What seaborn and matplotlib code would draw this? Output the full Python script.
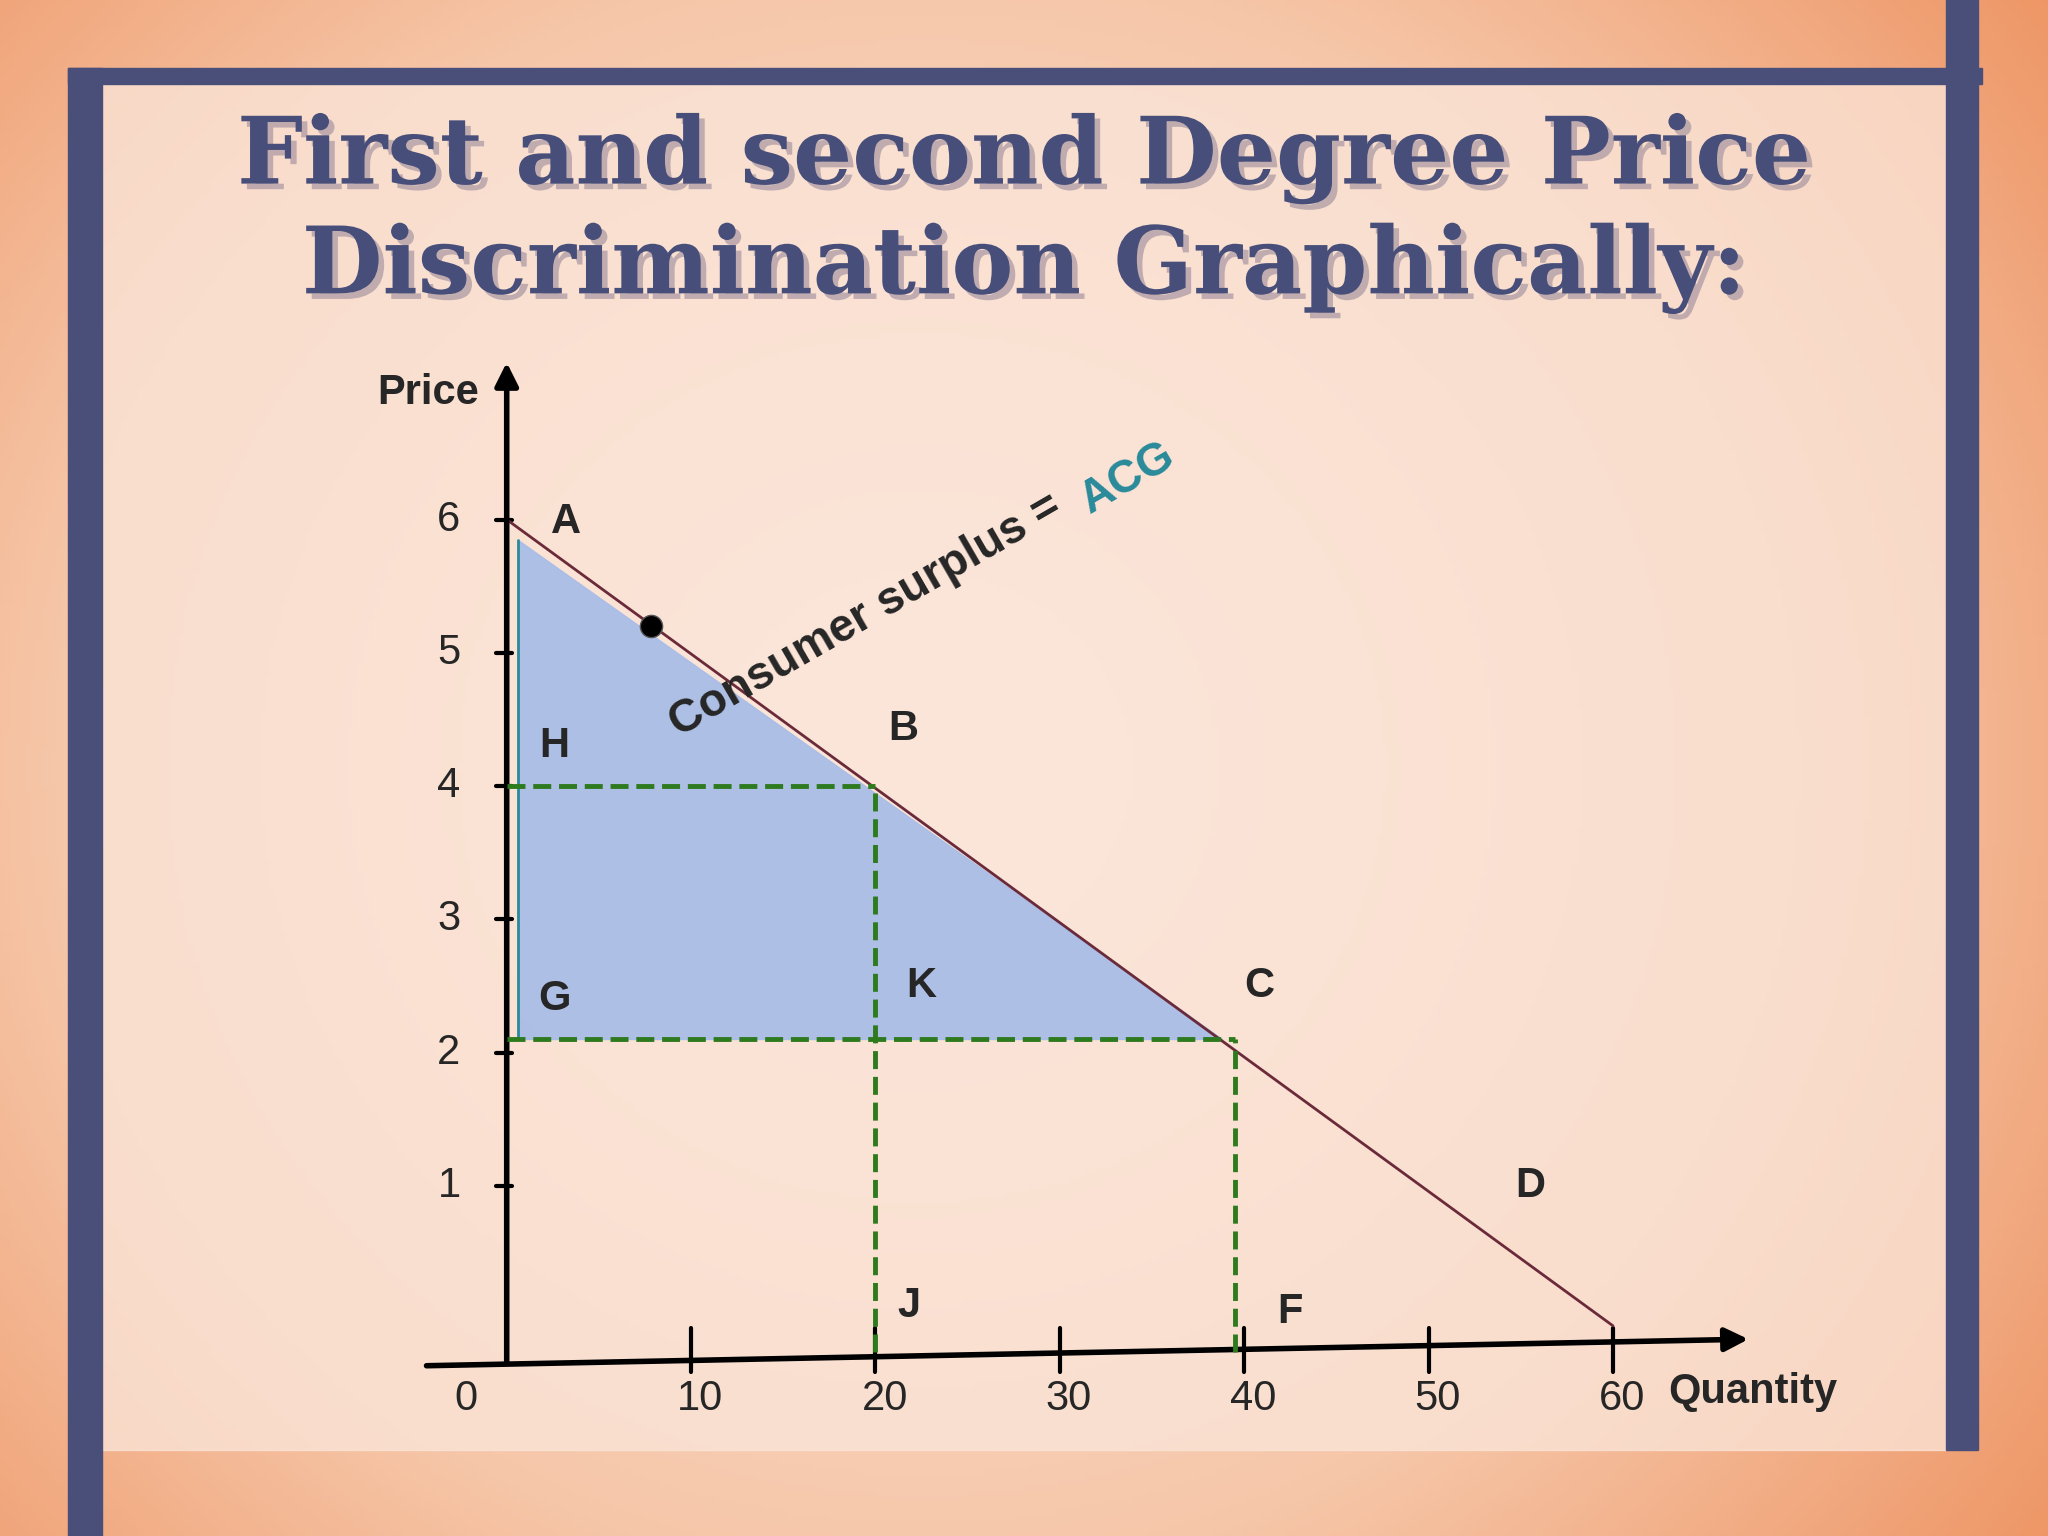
import matplotlib.pyplot as plt
import matplotlib.patches as mpatches
import matplotlib.patheffects as pe
import numpy as np
import pandas as pd
import seaborn as sns

# data
demand_q = [0, 60]
demand_p = [6, -0.05]
surplus_q = [0.6, 0.6, 38.8]
surplus_p = [5.85, 2.1, 2.1]
x_ticks = [10, 20, 30, 40, 50, 60]
y_ticks = [1, 2, 3, 4, 5, 6]
point_labels = {'A': (3.2, 5.98), 'H': (2.6, 4.3), 'B': (21.5, 4.43), 'G': (2.6, 2.4),
                'K': (22.5, 2.5), 'C': (40.8, 2.5), 'D': (55.5, 1.0), 'J': (21.8, 0.1), 'F': (42.5, 0.05)}
axis_y = -0.25

sns.set_style('white')
plt.rcParams['font.family'] = ['Liberation Sans', 'DejaVu Sans']
fig = plt.figure(figsize=(20.48, 15.36), dpi=100)

# background
bg = fig.add_axes([0, 0, 1, 1])
yy, xx = np.mgrid[0:1:300j, 0:1:400j]
r = np.sqrt((xx - 0.45) ** 2 + ((yy - 0.5) * 0.8) ** 2)
bg.imshow(r, cmap=sns.blend_palette(['#fbe3d4', '#f6c6a8', '#ec8a55'], as_cmap=True),
          extent=[0, 1, 0, 1], aspect='auto', vmin=0.1, vmax=0.75)
bg.add_patch(mpatches.Rectangle((0.05, 0.056), 0.9, 0.889, color='#fbe6da', alpha=0.75))
frame = '#4a4f7a'
bg.add_patch(mpatches.Rectangle((0.033, 0), 0.017, 0.956, color=frame))
bg.add_patch(mpatches.Rectangle((0.033, 0.945), 0.935, 0.011, color=frame))
bg.add_patch(mpatches.Rectangle((0.950, 0.056), 0.016, 0.944, color=frame))
bg.set_xlim(0, 1); bg.set_ylim(0, 1); bg.axis('off')

shadow = [pe.SimplePatchShadow(offset=(4, -4), shadow_rgbFace='#9a8a9a', alpha=0.6), pe.Normal()]
bg.text(0.5, 0.861, 'First and second Degree Price\nDiscrimination Graphically:', ha='center', va='center',
        fontsize=67, family='DejaVu Serif', weight='bold', color='#474e7a', linespacing=1.25,
        path_effects=shadow)

# chart
ax = fig.add_axes([0.2024, 0.0729, 0.6482, 0.6973])
ax.patch.set_alpha(0)
ax.set_xlim(-5, 67)
ax.set_ylim(-0.787, 7.25)
for s in ax.spines.values():
    s.set_visible(False)

ax.fill(surplus_q, surplus_p, color='#a9bde6', alpha=0.95, zorder=1)
ax.plot(surplus_q[:2], surplus_p[:2], color='#2a8a9a', lw=2, zorder=2)
df = pd.DataFrame({'Quantity': demand_q, 'Price': demand_p})
sns.lineplot(data=df, x='Quantity', y='Price', color='#6b2a3a', lw=2, ax=ax, zorder=3)

green = '#2e7a1e'
ax.plot([0, 20], [4, 4], ls='--', color=green, lw=3.5, zorder=4)
ax.plot([20, 20], [axis_y, 4], ls='--', color=green, lw=3.5, zorder=4)
ax.plot([0, 39.5], [2.1, 2.1], ls='--', color=green, lw=3.5, zorder=4)
ax.plot([39.5, 39.5], [axis_y, 2.1], ls='--', color=green, lw=3.5, zorder=4)

# axes with arrows
ax.annotate('', xy=(0, 7.2), xytext=(0, axis_y - 0.1),
            arrowprops=dict(arrowstyle='-|>', color='black', lw=4, mutation_scale=35), annotation_clip=False)
ax.annotate('', xy=(67.5, axis_y + 0.1), xytext=(-4.5, axis_y - 0.1),
            arrowprops=dict(arrowstyle='-|>', color='black', lw=4, mutation_scale=35), annotation_clip=False)
for t in y_ticks:
    ax.plot([-0.6, 0.3], [t, t], color='black', lw=3)
    ax.text(-2.5, t, str(t), ha='right', va='center', fontsize=30)
for t in x_ticks:
    ax.plot([t, t], [axis_y - 0.15, axis_y + 0.18], color='black', lw=3)
    ax.text(t + 0.5, axis_y - 0.2, str(t), ha='center', va='top', fontsize=30)
ax.text(-2.2, axis_y - 0.2, '0', ha='center', va='top', fontsize=30)
ax.text(-1.5, 6.95, 'Price', ha='right', va='center', fontsize=30, weight='bold')
ax.text(63, axis_y - 0.3, 'Quantity', ha='left', va='center', fontsize=30, weight='bold', clip_on=False)

for name, (x, y) in point_labels.items():
    ax.text(x, y, name, ha='center', va='center', fontsize=30, weight='bold')

ax.plot([7.8], [5.2], marker='o', ms=16, color='black', mec='#555555', zorder=5)
ax.text(9.6, 4.3, 'Consumer surplus = ', rotation=30, rotation_mode='anchor',
        ha='left', va='bottom', fontsize=33, weight='bold')
ax.text(31.9, 5.98, 'ACG', rotation=30, rotation_mode='anchor',
        ha='left', va='bottom', fontsize=33, weight='bold', color='#2a8a9a')
ax.set_xticks([]); ax.set_yticks([])
ax.set_xlabel(''); ax.set_ylabel('')

fig.savefig('out.png', dpi=100)
